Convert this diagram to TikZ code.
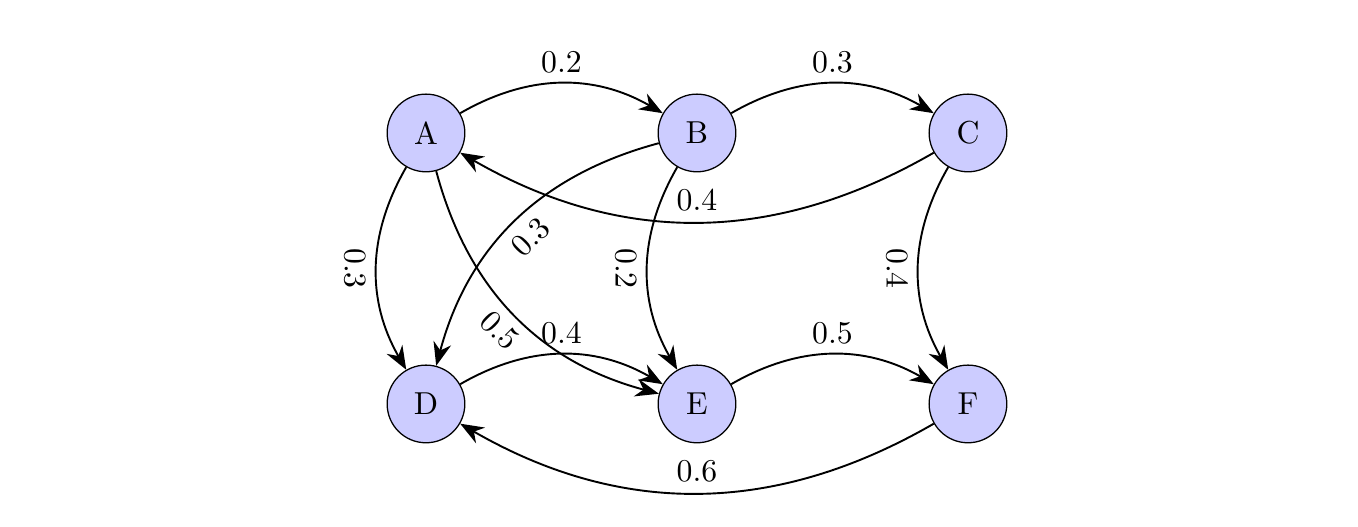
\documentclass[tikz,border=0pt]{standalone}
\usepackage{amsmath}
\usetikzlibrary{arrows.meta,positioning}
\definecolor{stfill}{RGB}{204,204,255}
\tikzset{
  stnode/.style={circle,draw=black,fill=stfill,minimum size=0.86cm,inner sep=0pt,font=\normalsize},
  pedge/.style={-{Stealth[length=2.6mm,width=2mm]},semithick,black},
  plabel/.style={font=\normalsize,sloped}
}
\newcommand{\pedge}[5][]{\draw[pedge] (#2) to[bend #4=30] node[plabel,auto=#4,#1] {$#5$} (#3);}

\begin{document}
\begin{tikzpicture}
	\useasboundingbox (-4.716,-4.362) rectangle (10.318,1.472);
	\node[stnode] (A) at (0,0) {A};
	\node[stnode,right=3cm of A.center,anchor=center] (B) {B};
	\node[stnode,right=3cm of B.center,anchor=center] (C) {C};
	\node[stnode,below=3cm of A.center,anchor=center] (D) {D};
	\node[stnode,right=3cm of D.center,anchor=center] (E) {E};
	\node[stnode,right=3cm of E.center,anchor=center] (F) {F};
	\pedge{A}{B}{left}{0.2} \pedge{B}{C}{left}{0.3}
	\pedge{C}{A}{left}{0.4}
	\pedge{A}{D}{right}{0.3} \pedge{A}{E}{right}{0.5}
	\pedge{B}{D}{right}{0.3} \pedge{B}{E}{right}{0.2}
	\pedge[allow upside down]{C}{F}{right}{0.4}
	\pedge{D}{E}{left}{0.4} \pedge{E}{F}{left}{0.5}
	\pedge{F}{D}{left}{0.6}
\end{tikzpicture}
\end{document}
